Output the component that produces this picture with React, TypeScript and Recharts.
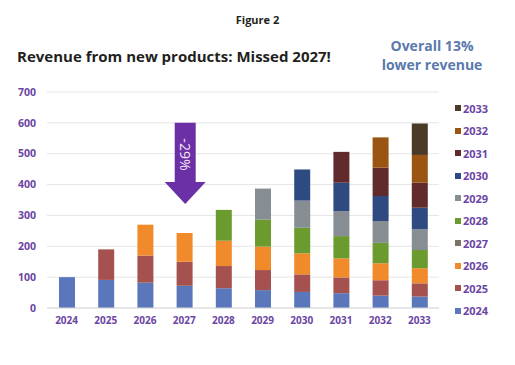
import { BarChart, Bar, XAxis, YAxis, CartesianGrid, ReferenceArea } from 'recharts'

const years = ['2024', '2025', '2026', '2027', '2028', '2029', '2030', '2031', '2032', '2033']
const yTicks = [0, 100, 200, 300, 400, 500, 600, 700]

// revenue per launch cohort, by year (null = not launched yet)
const cohort2024 = [100, 91, 82, 72, 64, 58, 52, 48, 40, 37]
const cohort2025 = [null, 99, 88, 78, 72, 65, 57, 51, 50, 43]
const cohort2026 = [null, null, 100, 93, 82, 76, 68, 62, 55, 49]
const cohort2027 = [null, null, null, null, null, null, null, null, null, null]
const cohort2028 = [null, null, null, null, 100, 88, 83, 72, 66, 59]
const cohort2029 = [null, null, null, null, null, 100, 88, 81, 71, 67]
const cohort2030 = [null, null, null, null, null, null, 101, 92, 81, 70]
const cohort2031 = [null, null, null, null, null, null, null, 100, 92, 81]
const cohort2032 = [null, null, null, null, null, null, null, null, 98, 90]
const cohort2033 = [null, null, null, null, null, null, null, null, null, 102]

const cohorts = [
  { key: '2024', values: cohort2024, color: '#5a77bb' },
  { key: '2025', values: cohort2025, color: '#a5514f' },
  { key: '2026', values: cohort2026, color: '#f08a2a' },
  { key: '2027', values: cohort2027, color: '#7b7466' },
  { key: '2028', values: cohort2028, color: '#6b9a2e' },
  { key: '2029', values: cohort2029, color: '#868e93' },
  { key: '2030', values: cohort2030, color: '#2f4a80' },
  { key: '2031', values: cohort2031, color: '#612b2b' },
  { key: '2032', values: cohort2032, color: '#9b5512' },
  { key: '2033', values: cohort2033, color: '#4b3a28' }
]

const missedYear = '2027'
const missedLabel = '-29%'
const arrowTop = 600
const arrowTip = 337

const data = years.map((year, i) => {
  const row: Record<string, string | number | null> = { year }
  cohorts.forEach((c) => {
    row['c' + c.key] = c.values[i]
  })
  return row
})

const tickColor = '#6b45a3'
const font = '"Open Sans", "Noto Sans", sans-serif'

const ArrowShape = (props: any) => {
  const { x, y, width, height } = props
  const cx = x + width / 2 + 1
  const shaft = 10.5
  const head = 20.5
  const headH = 22
  const bottom = y + height
  const pts = [
    [cx - shaft, y],
    [cx + shaft, y],
    [cx + shaft, bottom - headH],
    [cx + head, bottom - headH],
    [cx, bottom],
    [cx - head, bottom - headH],
    [cx - shaft, bottom - headH]
  ]
    .map((p) => p.join(','))
    .join(' ')
  const ty = y + (height - headH) / 2 + 2
  return (
    <g>
      <polygon points={pts} fill="#6b2fa6" />
      <text
        x={cx}
        y={ty}
        transform={`rotate(90 ${cx} ${ty})`}
        textAnchor="middle"
        dominantBaseline="central"
        fill="#f4e6f6"
        fontSize={14}
        fontFamily={font}
      >
        {missedLabel}
      </text>
    </g>
  )
}

const noteStyle = {
  position: 'absolute' as const,
  left: 362,
  width: 140,
  textAlign: 'center' as const,
  fontSize: 14,
  lineHeight: '15px',
  height: 15,
  fontWeight: 700,
  color: '#5b79ad'
}

export default function App() {
  return (
    <div
      style={{
        position: 'absolute',
        left: 0,
        top: 0,
        width: 515,
        height: 365,
        background: '#fff',
        fontFamily: font
      }}
    >
      <div
        style={{
          position: 'absolute',
          left: 0,
          width: 515,
          top: 12,
          textAlign: 'center',
          fontSize: 11,
          fontWeight: 700,
          color: '#231f20'
        }}
      >
        Figure 2
      </div>
      <div
        style={{
          position: 'absolute',
          left: 17,
          top: 46,
          fontSize: 15,
          fontWeight: 700,
          color: '#231f20',
          whiteSpace: 'nowrap'
        }}
      >
        Revenue from new products: Missed 2027!
      </div>
      <div style={{ ...noteStyle, top: 38 }}>Overall 13%</div>
      <div style={{ ...noteStyle, top: 57 }}>lower revenue</div>

      <div style={{ position: 'absolute', left: 0, top: 0 }}>
        <BarChart
          width={515}
          height={365}
          data={data}
          margin={{ top: 92, right: 76, bottom: 27, left: 10 }}
          barSize={16}
        >
          <CartesianGrid vertical={false} stroke="#e6e6e6" />
          <XAxis
            dataKey="year"
            height={30}
            tickLine={false}
            tickSize={0}
            tickMargin={9}
            axisLine={{ stroke: '#d9d9d9' }}
            tick={{ fill: tickColor, fontSize: 10, fontWeight: 700, fontFamily: font }}
          />
          <YAxis
            width={37}
            domain={[0, 700]}
            ticks={yTicks}
            tickLine={false}
            tickSize={0}
            tickMargin={11}
            axisLine={false}
            tick={{ fill: tickColor, fontSize: 10.5, fontWeight: 700, fontFamily: font }}
          />
          {cohorts.map((c) => (
            <Bar
              key={c.key}
              dataKey={'c' + c.key}
              name={c.key}
              stackId="rev"
              fill={c.color}
              isAnimationActive={false}
            />
          ))}
          <ReferenceArea
            x1={missedYear}
            x2={missedYear}
            y1={arrowTip}
            y2={arrowTop}
            shape={ArrowShape}
          />
        </BarChart>
      </div>

      <div style={{ position: 'absolute', left: 455, top: 97 }}>
        {[...cohorts].reverse().map((c) => (
          <div
            key={c.key}
            style={{
              height: 22.5,
              display: 'flex',
              alignItems: 'center',
              fontSize: 11,
              fontWeight: 700,
              color: tickColor
            }}
          >
            <span
              style={{ width: 6, height: 6, background: c.color, marginRight: 2, display: 'inline-block' }}
            />
            {c.key}
          </div>
        ))}
      </div>
    </div>
  )
}
